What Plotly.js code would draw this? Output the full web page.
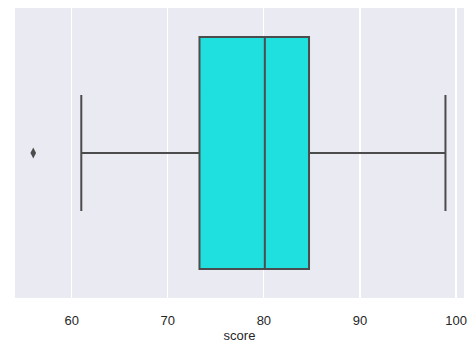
<!DOCTYPE html>
<html>
<head>
<meta charset="utf-8">
<script src="https://cdn.plot.ly/plotly-3.0.1.min.js"></script>
<style>html,body{margin:0;padding:0;background:#fff;}#chart{width:474px;height:356px;}</style>
</head>
<body>
<div id="chart"></div>
<script>
// Box statistics (score)
var category = [0];
var q1 = [73.3];
var median = [80.1];
var q3 = [84.7];
var lowerFence = [61.0];
var upperFence = [98.9];
var outliers = [56.0];
var tickVals = [60, 70, 80, 90, 100];
var tickText = ['60', '70', '80', '90', '100'];

var boxTrace = {
  type: 'box',
  orientation: 'h',
  y: category,
  q1: q1,
  median: median,
  q3: q3,
  lowerfence: lowerFence,
  upperfence: upperFence,
  width: 0.8,
  whiskerwidth: 0.5,
  fillcolor: 'rgb(32,223,223)',
  line: {color: '#4c4c4c', width: 2},
  boxpoints: false,
  hoverinfo: 'skip',
  showlegend: false
};

var outlierTrace = {
  type: 'scatter',
  mode: 'markers',
  x: outliers,
  y: outliers.map(function(){ return category[0]; }),
  marker: {symbol: 'diamond-tall', size: 8, color: '#4c4c4c', line: {width: 0}},
  hoverinfo: 'skip',
  showlegend: false
};

var layout = {
  width: 474,
  height: 356,
  margin: {l: 15, r: 10, t: 8, b: 58},
  paper_bgcolor: '#ffffff',
  plot_bgcolor: '#EAEAF2',
  font: {family: 'Liberation Sans, Arial, sans-serif', color: '#262626', size: 13},
  xaxis: {
    range: [54.1, 100.83],
    tickvals: tickVals,
    ticktext: tickText,
    showgrid: true,
    gridcolor: '#ffffff',
    gridwidth: 1.2,
    zeroline: false,
    showline: false,
    ticks: 'outside',
    ticklen: 10,
    tickcolor: 'rgba(0,0,0,0)',
    tickfont: {size: 13, color: '#262626'},
    title: {text: 'score', font: {size: 13, color: '#262626'}, standoff: 4}
  },
  yaxis: {
    range: [0.5, -0.5],
    showticklabels: false,
    showgrid: false,
    zeroline: false,
    showline: false,
    ticks: ''
  }
};

Plotly.newPlot('chart', [boxTrace, outlierTrace], layout, {displayModeBar: false, staticPlot: true});
</script>
</body>
</html>
